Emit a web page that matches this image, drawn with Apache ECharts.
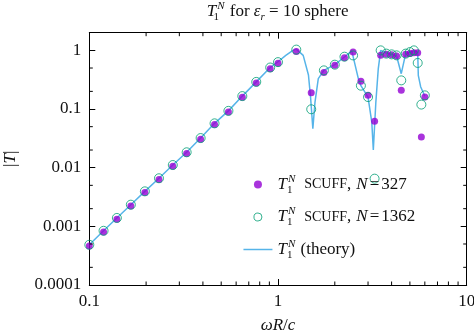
<!DOCTYPE html>
<html>
<head>
<meta charset="utf-8">
<script src="https://cdn.jsdelivr.net/npm/echarts@6/dist/echarts.min.js"></script>
<style>
html,body{margin:0;padding:0;background:#fff;}
#chart{width:474px;height:332px;}
</style>
</head>
<body>
<div id="chart"></div>
<script>
// ---- data ----
var omega = [0.1, 0.119, 0.140, 0.166, 0.197, 0.234, 0.277, 0.328, 0.389, 0.461, 0.546, 0.647, 0.767, 0.909,
             1.0, 1.25, 1.5, 1.75, 2.0, 2.25, 2.5, 2.75, 3.0, 3.25, 3.5, 3.75, 4.0, 4.25, 4.5, 4.75, 5.0, 5.25, 5.5, 5.75, 6.0];
var scuff327 = [4.6e-4, 8.0e-4, 1.32e-3, 2.23e-3, 3.77e-3, 6.27e-3, 1.06e-2, 1.74e-2, 3.05e-2, 5.42e-2, 8.9e-2, 0.158, 0.277, 0.488,
                0.60, 0.96, 0.19, 0.42, 0.555, 0.75, 0.94, 0.296, 0.171, 0.0617, 0.822, 0.855, 0.84, 0.80, 0.208, 0.855, 0.88, 0.91, 0.91, 0.0333, 0.16];
var scuff1362 = [4.85e-4, 8.4e-4, 1.39e-3, 2.34e-3, 3.95e-3, 6.6e-3, 1.11e-2, 1.83e-2, 3.2e-2, 5.7e-2, 9.3e-2, 0.166, 0.29, 0.51,
                 0.63, 1.03, 0.099, 0.456, 0.57, 0.78, 0.82, 0.25, 0.16, 0.0065, 1.0, 0.88, 0.855, 0.822, 0.308, 0.88, 0.935, 1.0, 0.61, 0.119, 0.171];
var omegaTheory = [0.1, 0.119, 0.140, 0.166, 0.197, 0.234, 0.277, 0.328, 0.389, 0.461, 0.546, 0.647, 0.767, 0.909,
                   1.0, 1.1, 1.2, 1.25, 1.36, 1.45, 1.49, 1.53, 1.57, 1.635, 1.75, 2.0, 2.25, 2.46, 2.665, 2.75, 3.0, 3.14, 3.2, 3.3, 3.4,
                   3.5, 3.75, 4.0, 4.25, 4.5, 4.75, 5.0, 5.25, 5.5, 5.54, 5.7, 6.0];
var theory = [4.85e-4, 8.4e-4, 1.39e-3, 2.34e-3, 3.95e-3, 6.6e-3, 1.11e-2, 1.83e-2, 3.2e-2, 5.7e-2, 9.3e-2, 0.166, 0.29, 0.51,
              0.64, 0.82, 1.0, 1.05, 0.82, 0.38, 0.15, 0.046, 0.13, 0.33, 0.456, 0.57, 0.77, 0.98, 0.33, 0.25, 0.16, 0.06, 0.02, 0.13, 0.49,
              1.0, 0.9, 0.86, 0.8, 0.40, 0.88, 0.93, 0.98, 0.93, 0.375, 0.24, 0.165];
var xTickLabels = ['0.1', '1', '10'];
var yTickLabels = ['0.0001', '0.001', '0.01', '0.1', '1'];
var xMinorTicks = [0.2, 0.3, 0.4, 0.5, 0.6, 0.7, 0.8, 0.9, 2, 3, 4, 5, 6, 7, 8, 9];
var yMinorTicks = [0.0002, 0.0005, 0.002, 0.005, 0.02, 0.05, 0.2, 0.5];

function zip(xs, ys) { return xs.map(function (x, i) { return [x, ys[i]]; }); }
function pickLabel(list) {
  return function (v) {
    for (var i = 0; i < list.length; i++) {
      var t = parseFloat(list[i]);
      if (Math.abs(Math.log10(v) - Math.log10(t)) < 0.01) return list[i];
    }
    return '';
  };
}

var SERIF = '"Liberation Serif", "DejaVu Serif", serif';
var INK = '#111';
var richBase = {
  it: { fontFamily: SERIF, fontStyle: 'italic', fontSize: 17, lineHeight: 22, color: INK },
  rm: { fontFamily: SERIF, fontSize: 17, lineHeight: 22, color: INK },
  cm: { fontFamily: SERIF, fontSize: 17, lineHeight: 22, color: INK, padding: [0, 5, 0, 0] },
  eq: { fontFamily: SERIF, fontSize: 17, lineHeight: 22, color: INK, padding: [0, 2, 0, 2] },
  sc: { fontFamily: SERIF, fontSize: 14, lineHeight: 22, color: INK, padding: [0, 0, 0, 8] },
  sup: { fontFamily: SERIF, fontStyle: 'italic', fontSize: 11, lineHeight: 9, verticalAlign: 'top', color: INK },
  supL: { fontFamily: SERIF, fontStyle: 'italic', fontSize: 11, lineHeight: 9, verticalAlign: 'top', color: INK, padding: [0, 1, 0, 1] },
  sub0: { fontFamily: SERIF, fontSize: 11, lineHeight: 7, verticalAlign: 'bottom', width: 0, color: INK },
  sub: { fontFamily: SERIF, fontStyle: 'italic', fontSize: 11, lineHeight: 7, verticalAlign: 'bottom', color: INK }
};

var legendNames = {
  'N327': '{it|T}{sub0|1}{supL|N}{sc|SCUFF}{cm|,}{it|N}{eq|=}{rm|327}',
  'N1362': '{it|T}{sub0|1}{supL|N}{sc|SCUFF}{cm|,}{it|N}{eq|=}{rm|1362}',
  'theory': '{it|T}{sub0|1}{supL|N}{rm| (theory)}'
};

function minorTicks(axis, values) {
  return {
    type: 'custom', silent: true, clip: false, z: 4,
    xAxisIndex: 0, yAxisIndex: 0,
    data: values.map(function (v) { return axis === 'x' ? [v, 1] : [1, v]; }),
    renderItem: function (params, api) {
      var cs = params.coordSys;
      var p = api.coord([api.value(0), api.value(1)]);
      var L = 3.5, st = { stroke: '#000', lineWidth: 1 };
      if (axis === 'x') {
        return { type: 'group', children: [
          { type: 'line', shape: { x1: p[0], y1: cs.y + cs.height, x2: p[0], y2: cs.y + cs.height - L }, style: st },
          { type: 'line', shape: { x1: p[0], y1: cs.y, x2: p[0], y2: cs.y + L }, style: st }
        ]};
      }
      return { type: 'group', children: [
        { type: 'line', shape: { x1: cs.x, y1: p[1], x2: cs.x + L, y2: p[1] }, style: st },
        { type: 'line', shape: { x1: cs.x + cs.width, y1: p[1], x2: cs.x + cs.width - L, y2: p[1] }, style: st }
      ]};
    }
  };
}

var axisLineStyle = { show: true, lineStyle: { color: '#000', width: 1 } };
var chart = echarts.init(document.getElementById('chart'), null, { renderer: 'canvas' });
chart.setOption({
  animation: false,
  backgroundColor: '#fff',
  title: {
    text: '{it|T}{sub0|1}{supL|N}{rm| for }{it|ε}{sub|r}{rm| = 10 sphere}',
    left: 277.6, top: 1, padding: 0, textAlign: 'center',
    textStyle: { rich: richBase, fontFamily: SERIF, fontSize: 17, fontWeight: 'normal', color: INK }
  },
  grid: { left: 89.3, right: 7.3, top: 32.7, bottom: 47, containLabel: false, outerBoundsMode: 'none' },
  legend: {
    orient: 'vertical', left: 237.7, top: 168.5, itemWidth: 29, itemHeight: 8, itemGap: 10.5,
    selectedMode: false,
    data: [
      { name: 'N327', icon: 'circle', itemStyle: { color: '#9400d3' } },
      { name: 'N1362', icon: 'circle', itemStyle: { color: 'rgba(0,0,0,0)', borderColor: '#009e73', borderWidth: 1 } },
      { name: 'theory', itemStyle: { opacity: 0 }, lineStyle: { color: '#56b4e9', width: 1.5 } }
    ],
    formatter: function (n) { return legendNames[n]; },
    textStyle: { rich: richBase, fontFamily: SERIF, fontSize: 17, color: INK, padding: [0, 0, 0, 0] }
  },
  xAxis: [
    { type: 'log', logBase: 10, min: 0.1, max: 10, position: 'bottom',
      name: '{it|ωR}{rm|/}{it|c}', nameLocation: 'middle', nameGap: 30,
      nameTextStyle: { rich: richBase },
      axisLine: axisLineStyle,
      axisTick: { inside: true, length: 6, lineStyle: { color: '#000' } },
      axisLabel: { margin: 8, fontFamily: SERIF, fontSize: 17, color: INK, formatter: pickLabel(xTickLabels) },
      splitLine: { show: false } },
    { type: 'log', logBase: 10, min: 0.1, max: 10, position: 'top',
      axisLine: axisLineStyle,
      axisTick: { inside: true, length: 6, lineStyle: { color: '#000' } },
      axisLabel: { show: false }, splitLine: { show: false } }
  ],
  yAxis: [
    { type: 'log', logBase: 10, min: 0.0001, max: 2, position: 'left',
      name: '{rm||}{it|T}{rm||}', nameLocation: 'middle', nameGap: 68, nameRotate: 90,
      nameTextStyle: { rich: richBase },
      axisLine: axisLineStyle,
      axisTick: { inside: true, length: 6, lineStyle: { color: '#000' } },
      axisLabel: { margin: 8, fontFamily: SERIF, fontSize: 17, color: INK, formatter: pickLabel(yTickLabels), showMaxLabel: false },
      splitLine: { show: false } },
    { type: 'log', logBase: 10, min: 0.0001, max: 2, position: 'right',
      axisLine: axisLineStyle,
      axisTick: { inside: true, length: 6, lineStyle: { color: '#000' } },
      axisLabel: { show: false }, splitLine: { show: false } }
  ],
  series: [
    { name: 'N327', type: 'scatter', data: zip(omega, scuff327), symbol: 'circle', symbolSize: 7,
      itemStyle: { color: '#9400d3' }, z: 2 },
    { name: 'N1362', type: 'scatter', data: zip(omega, scuff1362), symbol: 'circle', symbolSize: 9,
      itemStyle: { color: 'rgba(0,0,0,0)', borderColor: '#009e73', borderWidth: 1 }, z: 2 },
    { name: 'theory', type: 'line', data: zip(omegaTheory, theory), symbol: 'none', showSymbol: false,
      lineStyle: { color: '#56b4e9', width: 1.5 }, itemStyle: { color: '#56b4e9' }, z: 2 },
    minorTicks('x', xMinorTicks),
    minorTicks('y', yMinorTicks)
  ]
});
</script>
</body>
</html>
